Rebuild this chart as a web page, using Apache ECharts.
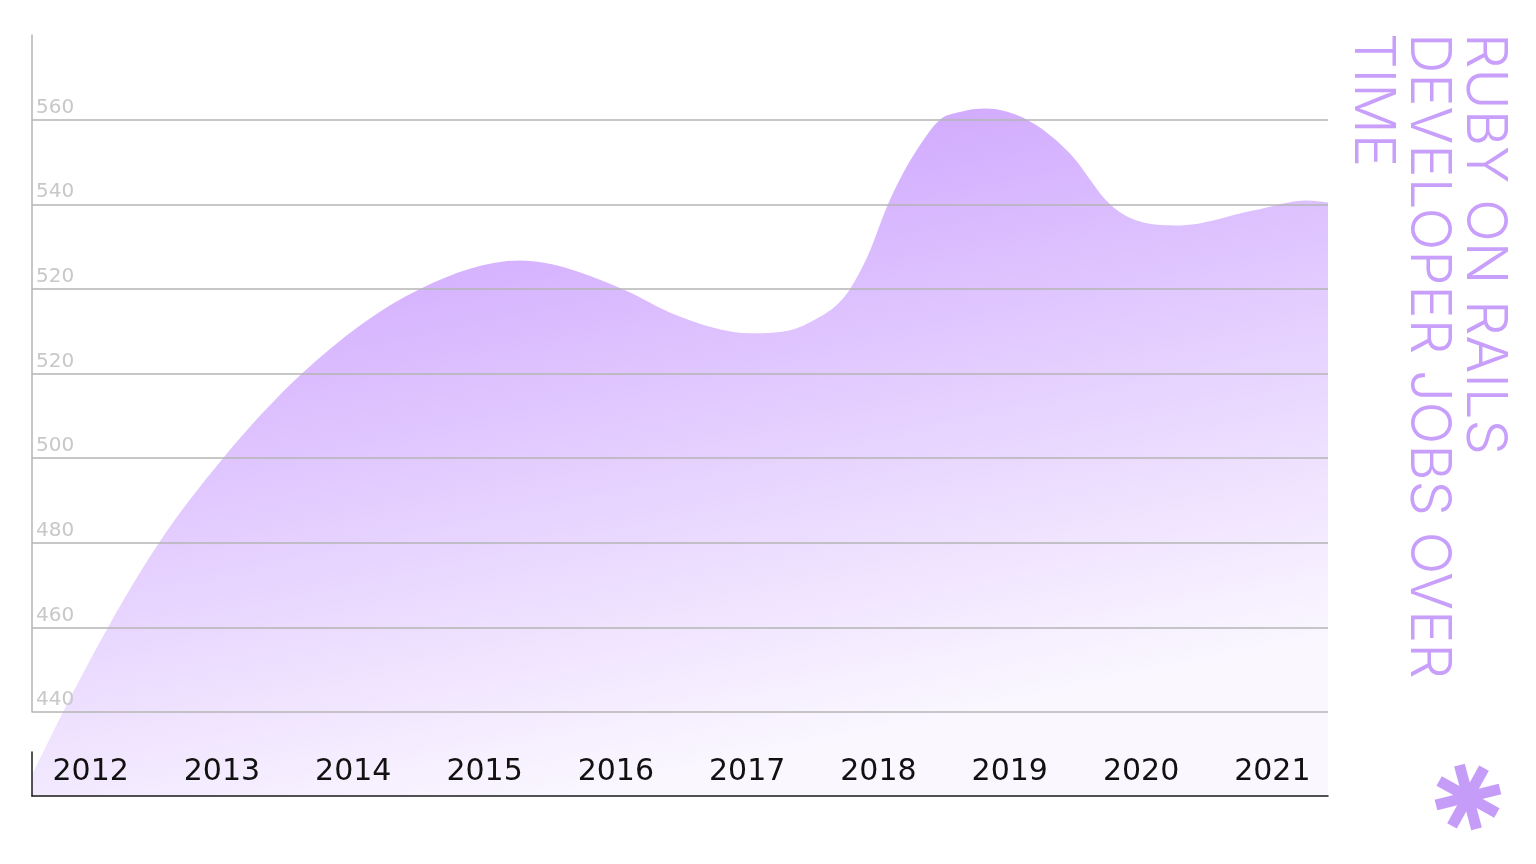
<!DOCTYPE html>
<html>
<head>
<meta charset="utf-8">
<script src="https://cdn.jsdelivr.net/npm/echarts@6.0.0/dist/echarts.min.js"></script>
<style>
html,body{margin:0;padding:0;background:#ffffff;}
#chart{width:1536px;height:864px;}
</style>
</head>
<body>
<div id="chart"></div>
<script>
// ---- data ----
const years = ['2012','2013','2014','2015','2016','2017','2018','2019','2020','2021'];
// curve sample positions (in year units) and job counts
const curveX = [2011.5, 2011.739, 2012.086, 2012.48, 2012.974, 2013.583, 2014.494, 2015.265, 2016.054, 2016.478, 2017.042, 2017.503, 2017.812, 2017.943, 2018.105, 2018.356, 2018.506, 2018.66, 2018.853, 2019.031, 2019.177, 2019.509, 2019.818, 2020.358, 2020.921, 2021.338, 2021.5];
const curveY = [405.1, 420, 440, 460, 480, 500, 520, 526.7, 520, 513.7, 509.5, 512.1, 520, 527.4, 540, 554.2, 560, 561.8, 562.6, 561.8, 560, 552, 540, 535, 538.5, 540.9, 540.4];
const baseValue = 400;
// tick labels as printed on the chart (bottom to top)
const yTickValues = [420, 440, 460, 480, 500, 520, 540, 560];
const yTickLabels = ['440', '460', '480', '500', '520', '520', '540', '560'];
const titleLines = ['RUBY ON RAILS', 'DEVELOPER JOBS OVER', 'TIME'];

const purple = '#c89ffa';

// smooth cubic path through pixel points (weighted-average tangents, flat at extrema)
function smoothPath(pts) {
  const n = pts.length;
  const s = [];
  for (let i = 0; i < n - 1; i++) s.push((pts[i + 1][1] - pts[i][1]) / (pts[i + 1][0] - pts[i][0]));
  const m = new Array(n);
  for (let i = 1; i < n - 1; i++) {
    const h0 = pts[i][0] - pts[i - 1][0], h1 = pts[i + 1][0] - pts[i][0];
    m[i] = (s[i - 1] * s[i] <= 0) ? 0 : (s[i - 1] * h1 + s[i] * h0) / (h0 + h1);
  }
  m[0] = (3 * s[0] - m[1]) / 2;
  m[n - 1] = (3 * s[n - 2] - m[n - 2]) / 2;
  let d = 'M' + pts[0][0] + ',' + pts[0][1];
  for (let i = 0; i < n - 1; i++) {
    const dx = (pts[i + 1][0] - pts[i][0]) / 3;
    d += ' C' + (pts[i][0] + dx) + ',' + (pts[i][1] + dx * m[i]) + ' ' +
      (pts[i + 1][0] - dx) + ',' + (pts[i + 1][1] - dx * m[i + 1]) + ' ' +
      pts[i + 1][0] + ',' + pts[i + 1][1];
  }
  return d;
}

const chart = echarts.init(document.getElementById('chart'), null, {renderer: 'canvas'});
const option = {
  animation: false,
  backgroundColor: '#ffffff',
  grid: [
    {left: 32, width: 1296, top: 35, height: 677},
    {left: 32, width: 1296, top: 752, height: 44},
    {left: 25, width: 1313, top: 752, height: 44}
  ],
  xAxis: [
    {gridIndex: 0, type: 'value', min: 2011.5, max: 2021.5, show: false},
    {gridIndex: 1, type: 'category', data: years, boundaryGap: true, z: 10,
      axisLine: {show: true, lineStyle: {color: '#1b1b1b', width: 1.5}},
      axisTick: {show: false}, axisLabel: {show: false}, splitLine: {show: false}},
    {gridIndex: 2, type: 'category', data: years, boundaryGap: true, z: 10,
      axisLine: {show: false}, axisTick: {show: false}, splitLine: {show: false},
      axisLabel: {inside: true, margin: 24, verticalAlign: 'middle', color: '#111111',
        fontFamily: 'DejaVu Sans', fontSize: 30, fontWeight: 'normal'}}
  ],
  yAxis: [
    {gridIndex: 0, type: 'value', min: 420, max: 580, interval: 20, z: 10,
      axisLine: {show: true, lineStyle: {color: '#b4b4b4', width: 1.5}},
      axisTick: {show: false},
      splitLine: {show: true, showMaxLine: false, showMinLine: true, lineStyle: {color: '#b4b4b4', width: 1.5}},
      axisLabel: {inside: true, margin: 4, verticalAlign: 'bottom', padding: [0, 0, 2, 0],
        showMaxLabel: false, color: '#c8c8c8', fontFamily: 'DejaVu Sans', fontSize: 20,
        formatter: function (v) {
          const i = yTickValues.indexOf(Math.round(v));
          return i >= 0 ? yTickLabels[i] : '';
        }}},
    {gridIndex: 1, type: 'value', min: 0, max: 1, z: 10,
      axisLine: {show: true, lineStyle: {color: '#1b1b1b', width: 1.5}},
      axisTick: {show: false}, axisLabel: {show: false}, splitLine: {show: false}},
    {gridIndex: 2, type: 'value', show: false}
  ],
  series: [{
    type: 'custom',
    coordinateSystem: 'cartesian2d',
    xAxisIndex: 0, yAxisIndex: 0,
    data: [[curveX[0], curveY[0]]],
    clip: false,
    silent: true,
    z: 0,
    renderItem: function (params, api) {
      const pts = curveX.map((x, i) => api.coord([x, curveY[i]]));
      const base = api.coord([curveX[0], baseValue])[1];
      const last = pts[pts.length - 1];
      const d = smoothPath(pts) + ' L' + last[0] + ',' + base + ' L' + pts[0][0] + ',' + base + ' Z';
      return {
        type: 'path',
        shape: {pathData: d},
        style: {
          fill: new echarts.graphic.LinearGradient(0, 0, 0.124, 1.113, [
            {offset: 0, color: '#c594fe'},
            {offset: 1, color: '#faf7ff'}
          ]),
          stroke: null
        }
      };
    }
  }],
  graphic: [
    {
      type: 'text', x: 1512, y: 33, rotation: -Math.PI / 2,
      style: {text: titleLines.join('\n'), fill: purple, fontFamily: 'Inter', fontWeight: 300,
        fontSize: 56, lineHeight: 56, align: 'left', verticalAlign: 'top'}
    },
    {
      type: 'group', x: 1468, y: 797,
      children: [14, 61, 105, 151].map(a => ({
        type: 'rect', rotation: a * Math.PI / 180,
        shape: {x: -33, y: -5.5, width: 66, height: 11},
        style: {fill: '#c59cf8'}
      }))
    }
  ]
};
chart.setOption(option);
</script>
</body>
</html>
